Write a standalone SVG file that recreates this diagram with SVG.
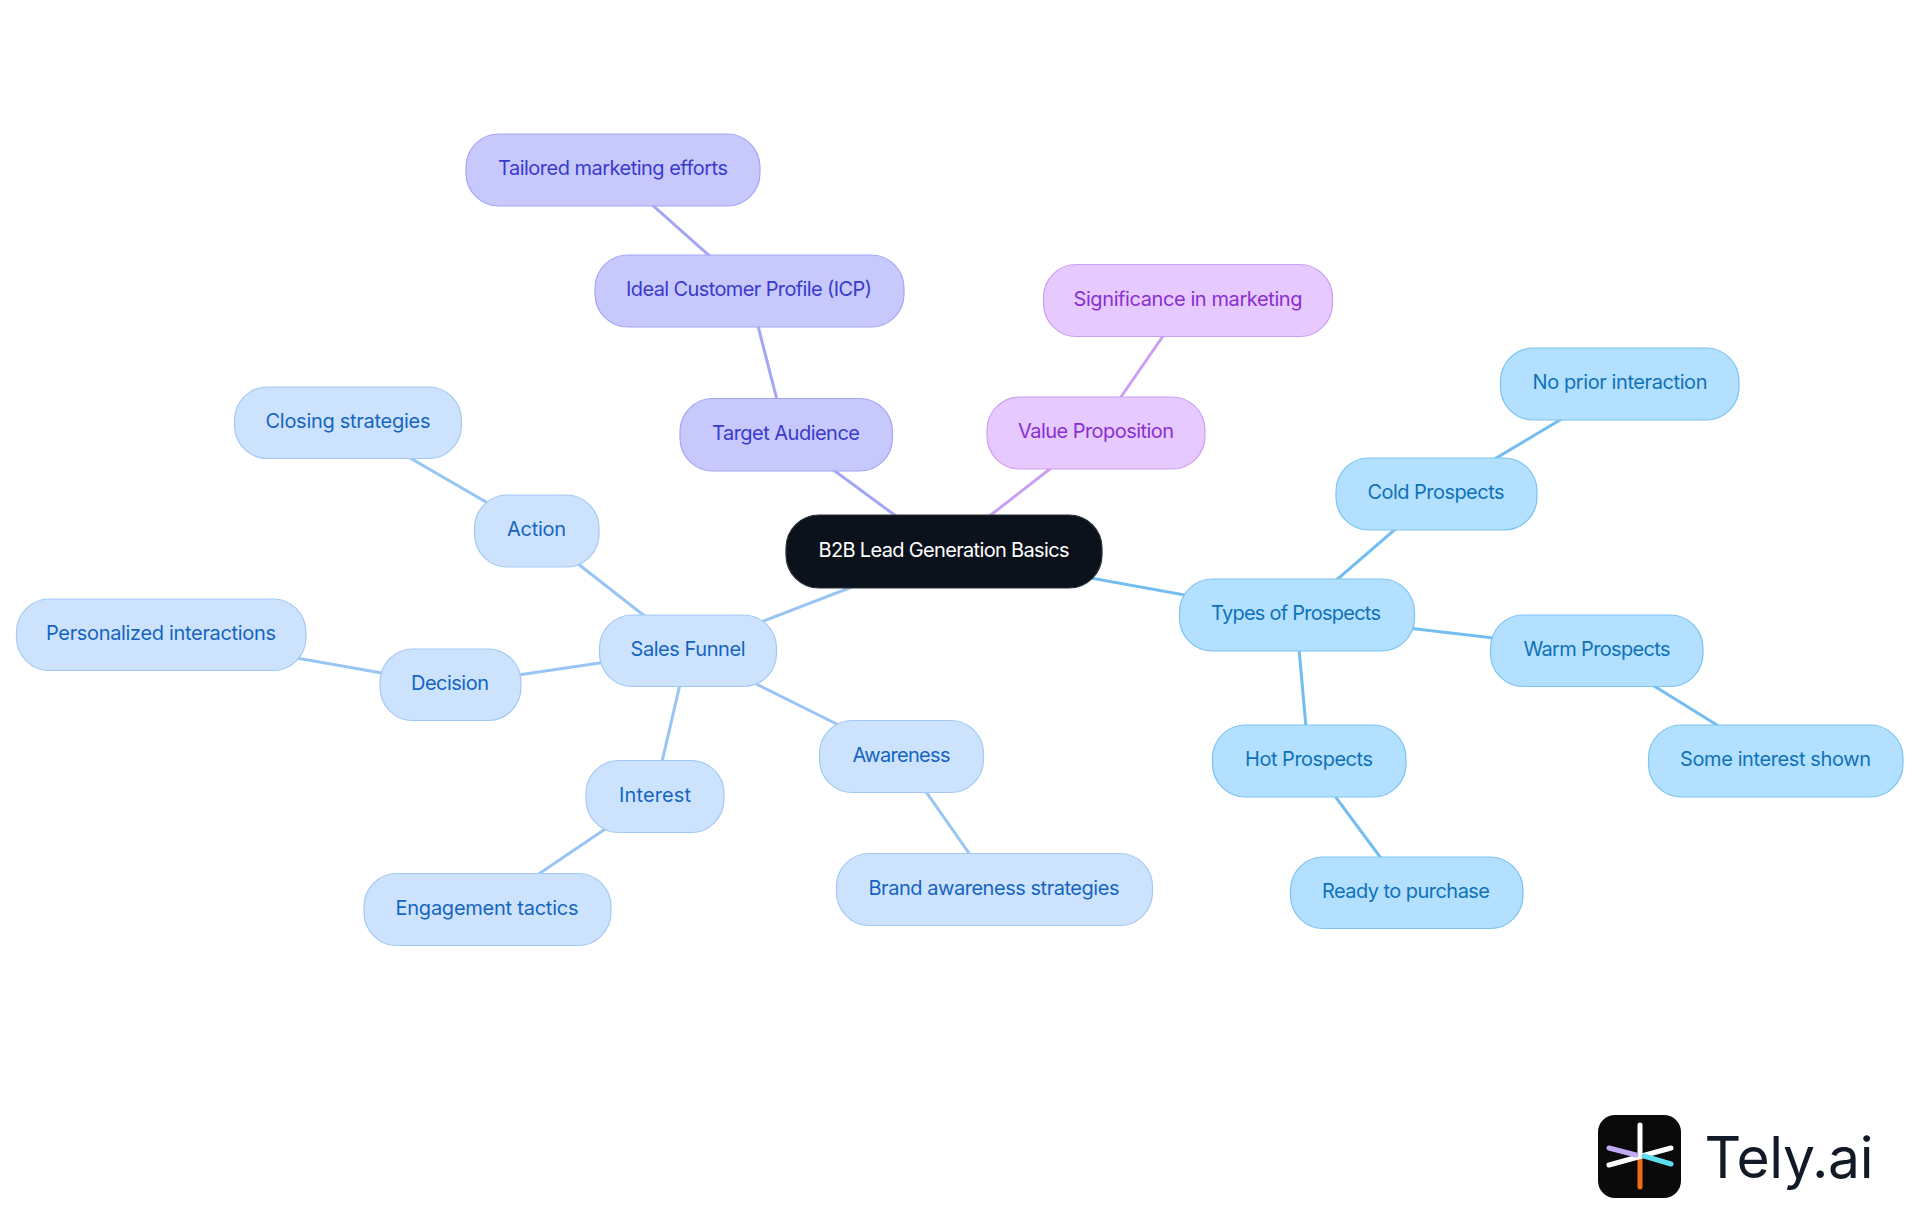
<svg xmlns="http://www.w3.org/2000/svg" width="1920" height="1215" viewBox="0 0 1920 1215">
<style>
text{font-family:Inter,"Noto Sans","Liberation Sans",sans-serif;font-size:20px;font-weight:400;text-anchor:middle}
rect{stroke-width:1.2}
.edges line{stroke-width:3;fill:none}
.root rect{fill:#0b121b;stroke:#2a3038}.root text{fill:#fff}
.aud rect{fill:#c7c9fd;stroke:#a4a6f5}.aud text{fill:#3a3acb}.e-aud{stroke:#a4a6f5}
.val rect{fill:#e6c9ff;stroke:#cb9ff2}.val text{fill:#8a2fd0}.e-val{stroke:#cb9ff2}
.sal rect{fill:#cde3fd;stroke:#a3c9f3}.sal text{fill:#1565c0}.e-sal{stroke:#98c5f3}
.typ rect{fill:#b3e0ff;stroke:#7cc3f2}.typ text{fill:#0f72b8}.e-typ{stroke:#74bdf0}
</style>
<rect width="1920" height="1215" fill="#fff" style="stroke:none"/>
<g id="connectors" class="edges">
<line class="e-aud" x1="944" y1="551.500" x2="786" y2="435"/>
<line class="e-aud" x1="786" y1="435" x2="749" y2="291"/>
<line class="e-aud" x1="749" y1="291" x2="613" y2="170"/>
<line class="e-val" x1="944" y1="551.500" x2="1096" y2="433"/>
<line class="e-val" x1="1096" y1="433" x2="1188" y2="300"/>
<line class="e-typ" x1="944" y1="551.500" x2="1296" y2="615"/>
<line class="e-typ" x1="1296" y1="615" x2="1436" y2="494"/>
<line class="e-typ" x1="1436" y1="494" x2="1620" y2="384"/>
<line class="e-typ" x1="1296" y1="615" x2="1596" y2="650"/>
<line class="e-typ" x1="1596" y1="650" x2="1775" y2="761"/>
<line class="e-typ" x1="1296" y1="615" x2="1309" y2="761"/>
<line class="e-typ" x1="1309" y1="761" x2="1406" y2="892"/>
<line class="e-sal" x1="944" y1="551.500" x2="688" y2="650"/>
<line class="e-sal" x1="688" y1="650" x2="536" y2="531"/>
<line class="e-sal" x1="536" y1="531" x2="348" y2="422"/>
<line class="e-sal" x1="688" y1="650" x2="450" y2="685"/>
<line class="e-sal" x1="450" y1="685" x2="161" y2="634"/>
<line class="e-sal" x1="688" y1="650" x2="654" y2="796"/>
<line class="e-sal" x1="654" y1="796" x2="487" y2="909"/>
<line class="e-sal" x1="688" y1="650" x2="901" y2="756"/>
<line class="e-sal" x1="901" y1="756" x2="994" y2="889"/>
</g>
<g id="root" class="root"><rect x="786" y="515" width="316" height="73" rx="33"/><text x="944" y="544" dy="12.500" textLength="251">B2B Lead Generation Basics</text></g>
<g id="target-audience" class="aud"><rect x="680" y="398.500" width="212.500" height="72.500" rx="33"/><text x="786" y="427" dy="12.500" textLength="148">Target Audience</text></g>
<g id="icp" class="aud"><rect x="595" y="255" width="309" height="72" rx="33"/><text x="749" y="283.500" dy="12.500" textLength="246">Ideal Customer Profile (ICP)</text></g>
<g id="tailored" class="aud"><rect x="466" y="134" width="294" height="72" rx="33"/><text x="613" y="162.500" dy="12.500" textLength="230">Tailored marketing efforts</text></g>
<g id="value-proposition" class="val"><rect x="987" y="397" width="218" height="72" rx="33"/><text x="1096" y="425.500" dy="12.500" textLength="156">Value Proposition</text></g>
<g id="significance" class="val"><rect x="1043.500" y="264.500" width="289" height="72" rx="33"/><text x="1188" y="293" dy="12.500" textLength="229">Significance in marketing</text></g>
<g id="types" class="typ"><rect x="1179.500" y="579" width="235" height="72" rx="33"/><text x="1296" y="607.500" dy="12.500" textLength="170">Types of Prospects</text></g>
<g id="cold" class="typ"><rect x="1336" y="458" width="201" height="72" rx="33"/><text x="1436" y="486.500" dy="12.500" textLength="137">Cold Prospects</text></g>
<g id="no-prior" class="typ"><rect x="1500.500" y="348" width="238.500" height="72" rx="33"/><text x="1620" y="376.500" dy="12.500" textLength="175">No prior interaction</text></g>
<g id="warm" class="typ"><rect x="1490.500" y="615" width="212.500" height="71.500" rx="33"/><text x="1597" y="643.500" dy="12.500" textLength="147">Warm Prospects</text></g>
<g id="some-interest" class="typ"><rect x="1648.500" y="725" width="254.500" height="72" rx="33"/><text x="1775.500" y="753.500" dy="12.500" textLength="191">Some interest shown</text></g>
<g id="hot" class="typ"><rect x="1212.500" y="725" width="193.500" height="72" rx="33"/><text x="1309" y="753.500" dy="12.500" textLength="128">Hot Prospects</text></g>
<g id="ready" class="typ"><rect x="1290.500" y="857" width="232.500" height="71.500" rx="33"/><text x="1406" y="885.500" dy="12.500" textLength="168">Ready to purchase</text></g>
<g id="sales" class="sal"><rect x="599.500" y="615" width="177" height="71.500" rx="33"/><text x="688" y="643.500" dy="12.500" textLength="115">Sales Funnel</text></g>
<g id="action" class="sal"><rect x="474.500" y="495" width="124.500" height="72" rx="33"/><text x="536.500" y="523.500" dy="12.500" textLength="59">Action</text></g>
<g id="closing" class="sal"><rect x="234.500" y="387" width="227" height="71.500" rx="33"/><text x="348" y="415.500" dy="12.500" textLength="165">Closing strategies</text></g>
<g id="decision" class="sal"><rect x="380" y="649" width="141" height="71.500" rx="33"/><text x="450" y="677.500" dy="12.500" textLength="78">Decision</text></g>
<g id="personalized" class="sal"><rect x="16.500" y="599" width="289.500" height="71.500" rx="33"/><text x="161" y="627.500" dy="12.500" textLength="230">Personalized interactions</text></g>
<g id="interest" class="sal"><rect x="586" y="760.500" width="138" height="72" rx="33"/><text x="655" y="789" dy="12.500" textLength="72">Interest</text></g>
<g id="engagement" class="sal"><rect x="364" y="873.500" width="247" height="72" rx="33"/><text x="487" y="902" dy="12.500" textLength="183">Engagement tactics</text></g>
<g id="awareness" class="sal"><rect x="819.500" y="720.500" width="164" height="72" rx="33"/><text x="901.500" y="749" dy="12.500" textLength="98">Awareness</text></g>
<g id="brand" class="sal"><rect x="836.500" y="853.500" width="316" height="72" rx="33"/><text x="994" y="882" dy="12.500" textLength="251">Brand awareness strategies</text></g>
<g id="logo">
<rect x="1598" y="1115" width="83" height="83" rx="17" fill="#0a0a0a" style="stroke:none"/>
<g stroke-width="5" stroke-linecap="round" fill="none">
<path d="M1640 1125V1153" stroke="#fff"/>
<path d="M1640 1160V1187" stroke="#f26a12"/>
<path d="M1671 1148L1609 1165" stroke="#fff"/>
<path d="M1609 1148L1636 1155" stroke="#c2a8f5"/>
<path d="M1644 1156L1671 1164" stroke="#5fdcee"/>
</g>
<text x="1789" y="1178" textLength="169" style="font-size:57px;fill:#111a26">Tely.ai</text>
</g>
</svg>
